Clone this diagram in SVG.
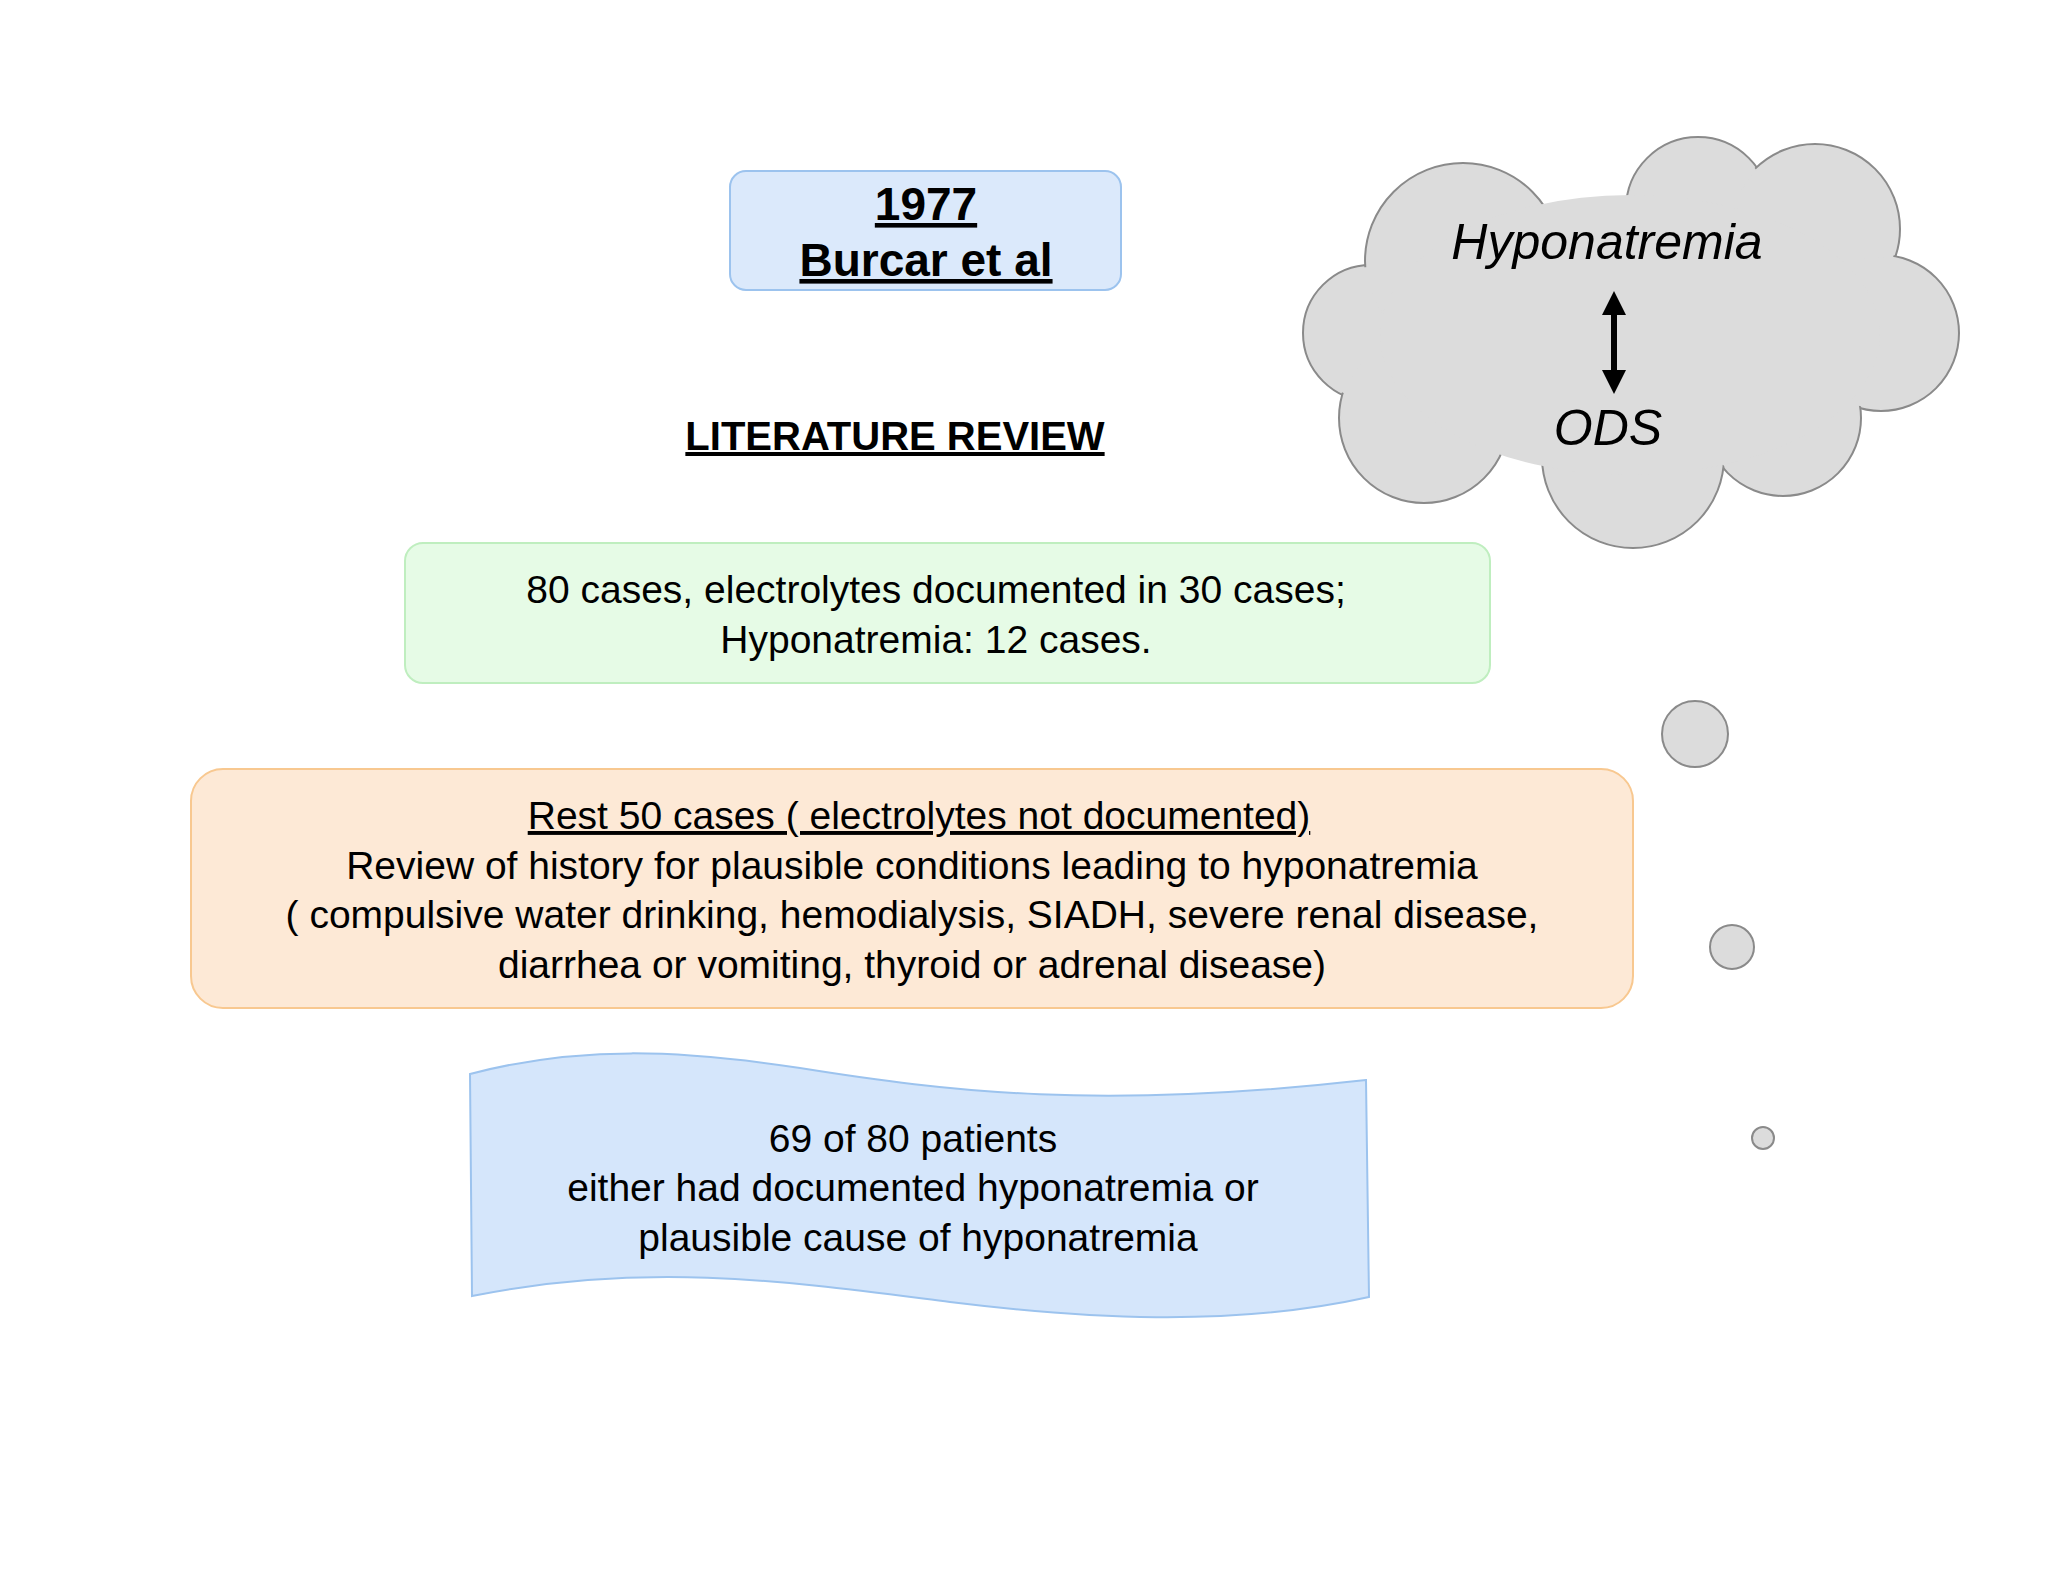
<svg xmlns="http://www.w3.org/2000/svg" width="2048" height="1582" viewBox="0 0 2048 1582">
<style>
text{font-family:"Liberation Sans",Arial,sans-serif;fill:#000;text-anchor:middle}
.b{font-weight:bold;text-decoration:underline;font-size:46px}
.t{font-size:39px}
.cl{fill:#dcdcdc;stroke:#8a8a8a;stroke-width:2}
.cf{fill:#dcdcdc}
</style>
<defs>
<marker id="ah" viewBox="0 0 10 10" refX="5" refY="5" markerWidth="4" markerHeight="4" orient="auto-start-reverse"><path d="M0,0L10,5L0,10z" fill="#000"/></marker>
</defs>
<rect width="2048" height="1582" fill="#fff"/>
<g id="title">
<rect x="730" y="171" width="391" height="119" rx="16" fill="#dbe9fb" stroke="#9cc3ee" stroke-width="2"/>
<text class="b" x="926" y="220">1977</text>
<text class="b" x="926" y="276">Burcar et al</text>
</g>
<g id="litreview"><text x="895" y="450" style="font-weight:bold;text-decoration:underline;font-size:40px">LITERATURE REVIEW</text></g>
<g id="green">
<rect x="405" y="543" width="1085" height="140" rx="18" fill="#e6fbe6" stroke="#bfeebf" stroke-width="2"/>
<text class="t" x="936" y="603">80 cases, electrolytes documented in 30 cases;</text>
<text class="t" x="936" y="653">Hyponatremia: 12 cases.</text>
</g>
<g id="orange">
<rect x="191" y="769" width="1442" height="239" rx="32" fill="#fde9d6" stroke="#f8c890" stroke-width="2"/>
<text class="t" x="919" y="829" text-decoration="underline">Rest 50 cases ( electrolytes not documented)</text>
<text class="t" x="912" y="879">Review of history for plausible conditions leading to hyponatremia</text>
<text class="t" x="912" y="928">( compulsive water drinking, hemodialysis, SIADH, severe renal disease,</text>
<text class="t" x="912" y="978">diarrhea or vomiting, thyroid or adrenal disease)</text>
</g>
<g id="banner">
<path d="M470,1074 C580,1045 680,1050 800,1068 C950,1092 1100,1110 1366,1080 L1369,1297 C1230,1328 1080,1318 950,1302 C800,1283 650,1260 472,1296 Z" fill="#d5e6fb" stroke="#9cc3ee" stroke-width="2"/>
<text class="t" x="913" y="1152">69 of 80 patients</text>
<text class="t" x="913" y="1201">either had documented hyponatremia or</text>
<text class="t" x="918" y="1251">plausible cause of hyponatremia</text>
</g>
<g id="cloud">
<circle class="cl" cx="1371" cy="333" r="68"/><circle class="cl" cx="1463" cy="261" r="98"/><circle class="cl" cx="1698" cy="209" r="72"/><circle class="cl" cx="1815" cy="229" r="85"/><circle class="cl" cx="1881" cy="333" r="78"/><circle class="cl" cx="1783" cy="418" r="78"/><circle class="cl" cx="1633" cy="457" r="91"/><circle class="cl" cx="1424" cy="418" r="85"/>
<circle class="cf" cx="1371" cy="333" r="66"/><circle class="cf" cx="1463" cy="261" r="96"/><circle class="cf" cx="1698" cy="209" r="70"/><circle class="cf" cx="1815" cy="229" r="83"/><circle class="cf" cx="1881" cy="333" r="76"/><circle class="cf" cx="1783" cy="418" r="76"/><circle class="cf" cx="1633" cy="457" r="89"/><circle class="cf" cx="1424" cy="418" r="83"/>
<ellipse class="cf" cx="1630" cy="335" rx="250" ry="140"/>
<text x="1607" y="259" font-size="50" font-style="italic">Hyponatremia</text>
<text x="1608" y="445" font-size="50" font-style="italic">ODS</text>
</g>
<g id="connectors">
<line x1="1614" y1="303" x2="1614" y2="382" stroke="#000" stroke-width="6" marker-start="url(#ah)" marker-end="url(#ah)"/>
</g>
<g id="bubbles">
<circle class="cl" cx="1695" cy="734" r="33"/>
<circle class="cl" cx="1732" cy="947" r="22"/>
<circle class="cl" cx="1763" cy="1138" r="11"/>
</g>
</svg>
